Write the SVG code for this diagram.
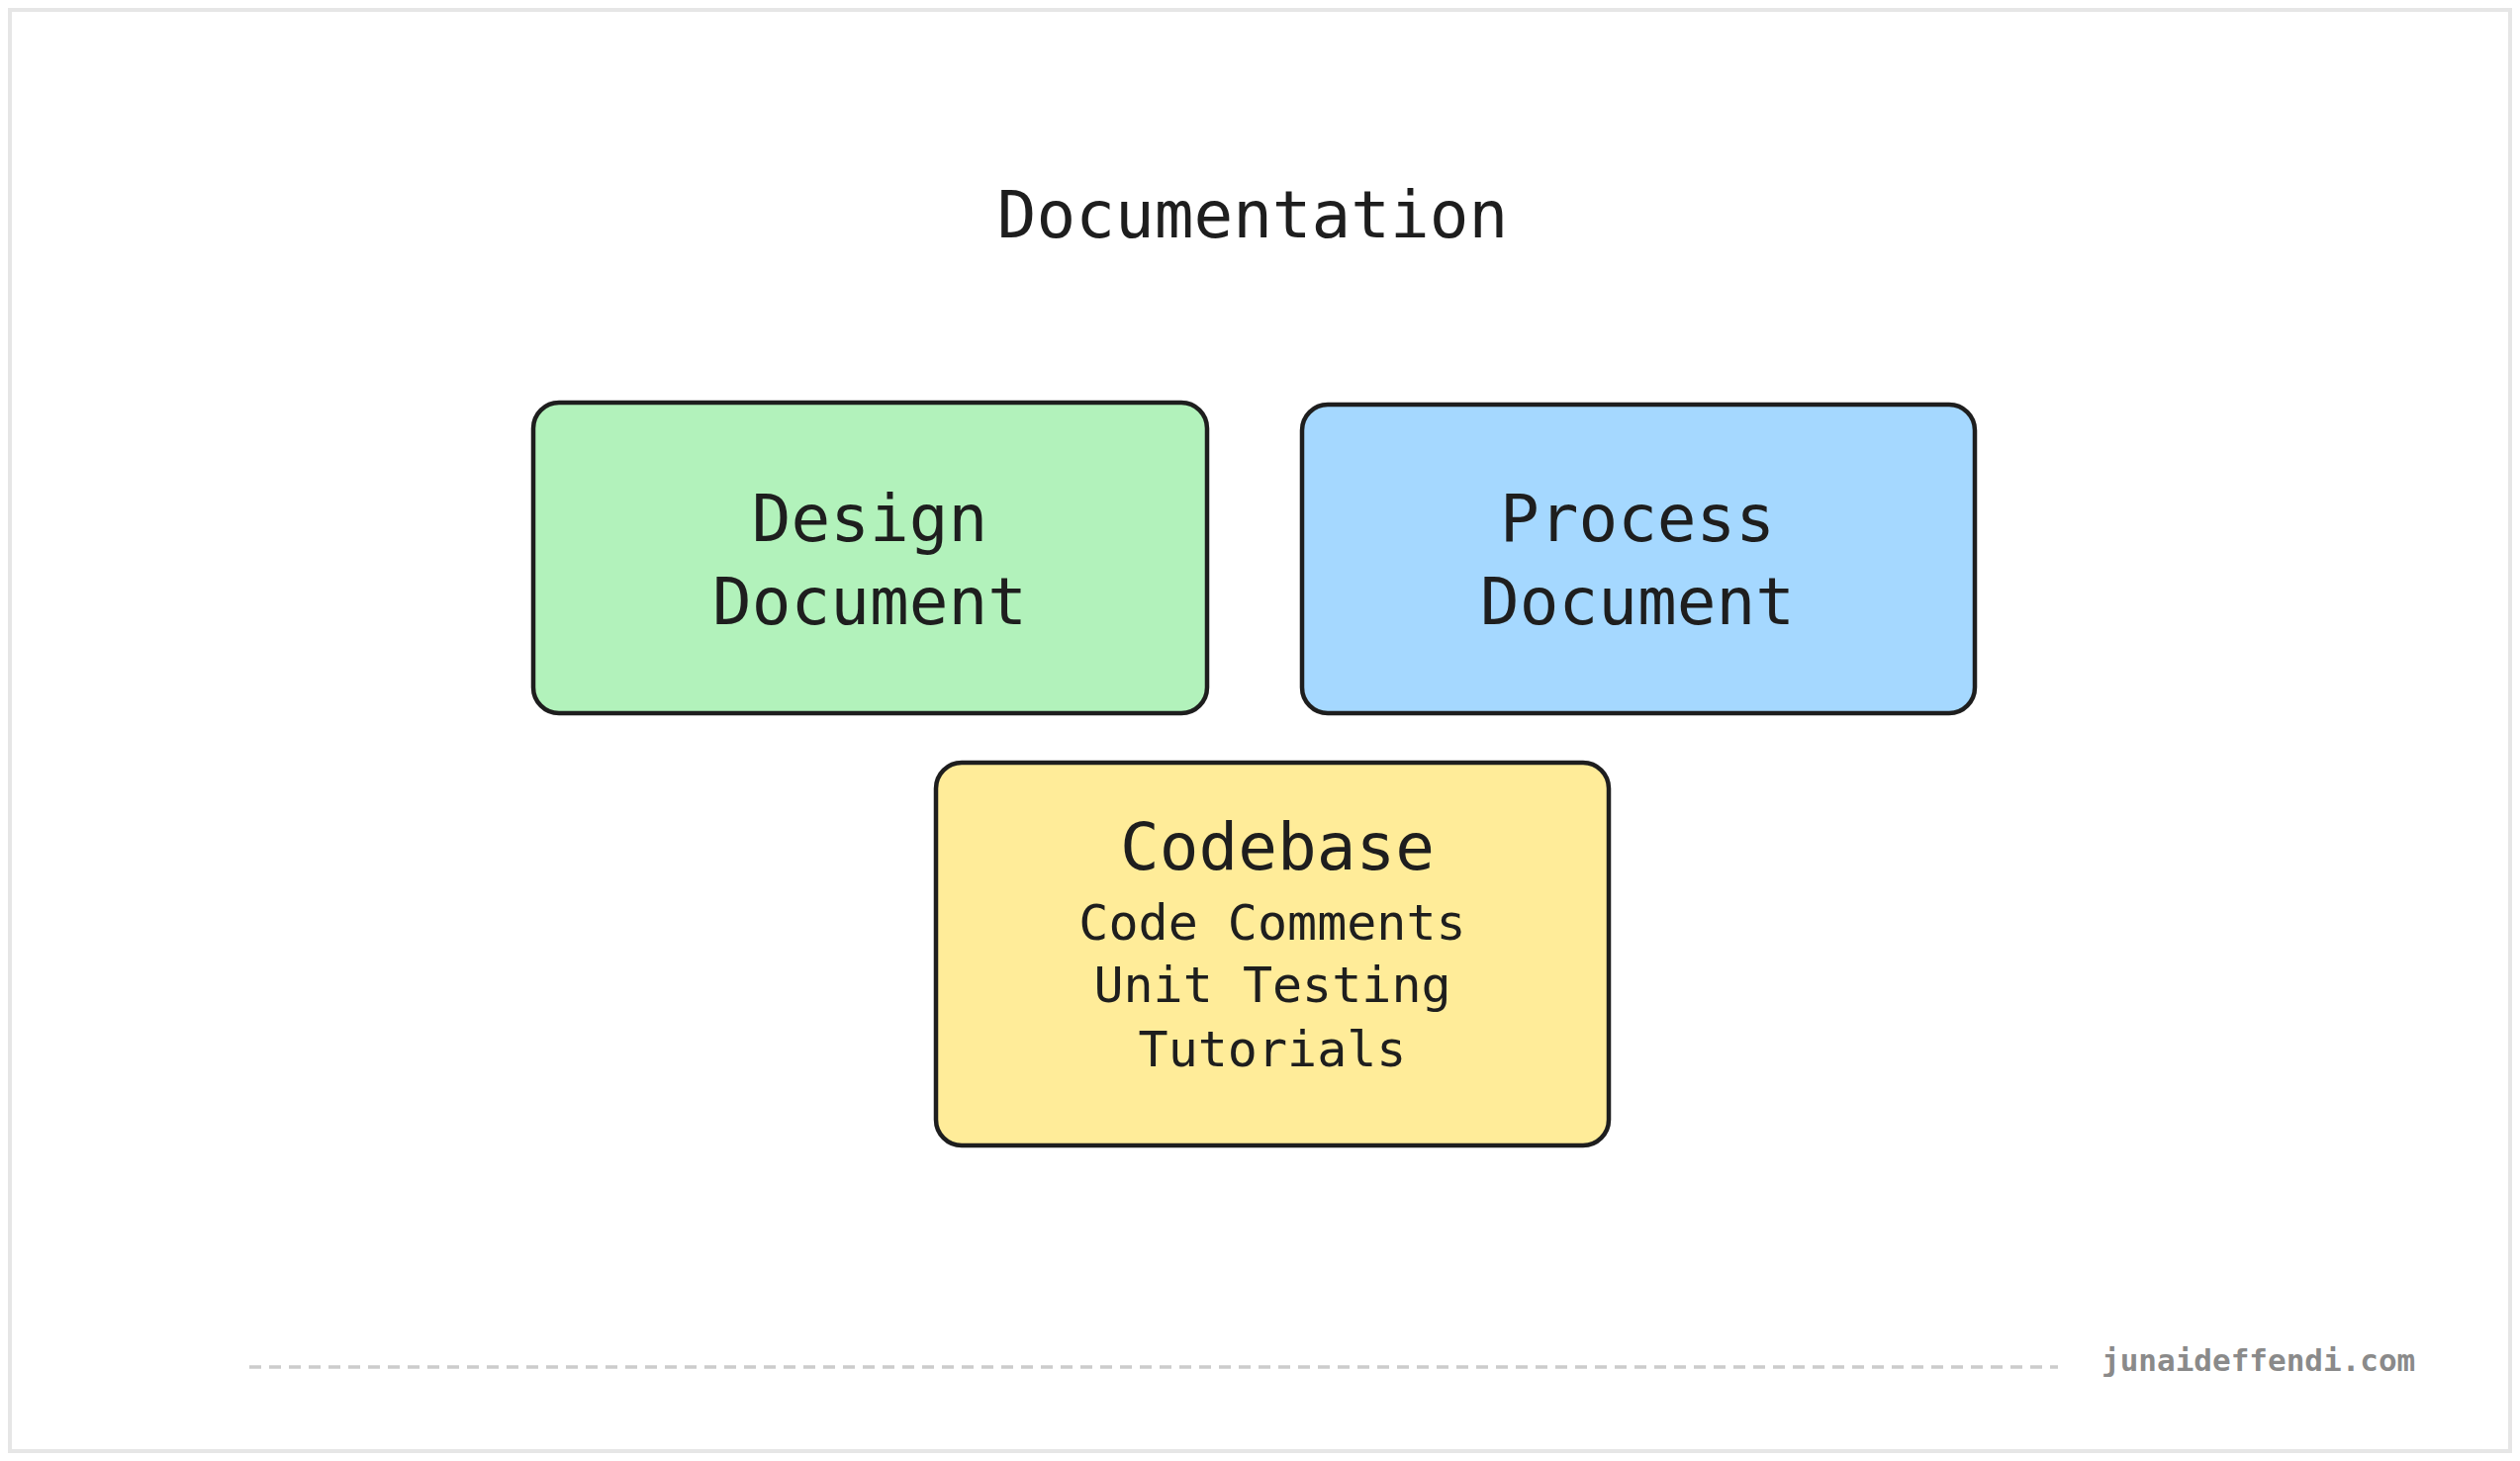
<svg xmlns="http://www.w3.org/2000/svg" width="2547" height="1477" viewBox="0 0 2547 1477">
<style>
.t{font-family:"DejaVu Sans Mono","Liberation Mono",monospace;fill:#1e1e1e;text-anchor:middle}
.big{font-size:66px}
.sm{font-size:50px}
.box{stroke:#1e1e1e;stroke-width:4.5}
</style>
<rect x="0" y="0" width="2547" height="1477" fill="#fff"/>
<rect x="10" y="10" width="2527" height="1457" fill="#fff" stroke="#e6e6e6" stroke-width="4"/>
<g id="title"><text class="t big" x="1266" y="240">Documentation</text></g>
<g id="design">
<rect class="box" x="539" y="407" width="681" height="314" rx="26" fill="#b2f2bb"/>
<text class="t big" x="879" y="547">Design </text>
<text class="t big" x="879" y="631">Document</text>
</g>
<g id="process">
<rect class="box" x="1316" y="409" width="680" height="312" rx="26" fill="#a5d8ff"/>
<text class="t big" x="1655" y="547">Process </text>
<text class="t big" x="1655" y="631">Document</text>
</g>
<g id="codebase">
<rect class="box" x="946" y="771" width="680" height="387" rx="26" fill="#ffec99"/>
<text class="t big" x="1291" y="879">Codebase</text>
<text class="t sm" x="1286" y="950">Code Comments</text>
<text class="t sm" x="1286" y="1013">Unit Testing</text>
<text class="t sm" x="1286" y="1078">Tutorials</text>
</g>
<g id="connectors">
<line x1="252" y1="1382" x2="2080" y2="1382" stroke="#cccccc" stroke-width="3.5" stroke-dasharray="12 8"/>
</g>
<g id="footer"><text x="2124" y="1386" font-family="DejaVu Sans Mono,monospace" font-size="31" font-weight="bold" fill="#8a8a8a">junaideffendi.com</text></g>
</svg>
